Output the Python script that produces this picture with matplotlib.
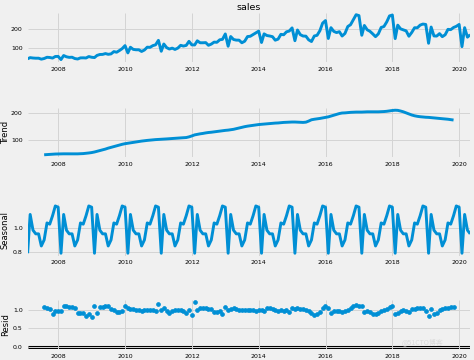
import numpy as np
import pandas as pd
import matplotlib
matplotlib.use("Agg")
import matplotlib.pyplot as plt

# monthly sales, Jan 2007 - Apr 2020
sales = [41, 47, 45, 44, 44, 39, 42.4, 48.9, 47.8, 44.7, 53.0, 53.6,
         36.8, 58.1, 51.4, 48.4, 49.2, 42.3, 39.8, 45.7, 46.0, 45.2, 52.8, 49.0,
         47.4, 58.8, 63.6, 64.1, 68.4, 64.5, 66.7, 78.8, 75.5, 84.6, 94.6, 110.4,
         71.9, 101.8, 90.5, 88.5, 88.4, 79.6, 87.3, 102.1, 101.3, 110.3, 114.6, 138.2,
         80.7, 118.9, 99.7, 92.4, 97.1, 90.3, 97.3, 111.9, 108.1, 111.5, 132.9, 114.4,
         113.8, 135.7, 125.4, 125.4, 126.2, 112.1, 118.4, 128.9, 127.8, 141.0, 143.4, 171.8,
         107.1, 158.3, 142.7, 139.4, 139.1, 125.4, 133.7, 158.1, 159.7, 168.8, 177.3, 186.7,
         126.9, 172.3, 163.6, 161.1, 157.5, 139.0, 144.6, 169.9, 167.6, 183.2, 187.2, 203.8,
         136.3, 192.8, 168.1, 160.9, 160.2, 141.0, 132.0, 161.1, 164.6, 189.1, 228.9, 242.4,
         148.0, 205.0, 185.4, 179.2, 183.8, 161.0, 174.5, 211.1, 220.6, 247.4, 273.3, 268.6,
         165.0, 216.7, 193.8, 185.9, 172.2, 157.6, 172.4, 206.2, 211.1, 235.7, 267.0, 271.6,
         147.4, 218.3, 198.7, 193.7, 188.1, 159.9, 179.8, 204.6, 204.4, 218.6, 224.0, 222.0,
         122.8, 208.3, 161.4, 160.8, 173.7, 157.6, 167.5, 196.2, 194.5, 206.0, 212.0, 222.0,
         105.0, 205.0, 155.0, 168.0]

# trend, Jul 2007 - Oct 2019
trend = [44.0, 44.8, 45.5, 46.2, 46.8, 47.2,
         47.5, 47.6, 47.7, 47.6, 47.5, 47.4, 47.5, 47.8, 48.5, 49.5, 50.8, 52.3,
         54.5, 57.0, 59.5, 62.5, 65.5, 69.0, 72.0, 75.0, 78.0, 81.0, 83.5, 85.8,
         87.5, 89.0, 90.5, 92.2, 94.0, 95.6, 97.0, 98.2, 99.3, 100.3, 101.2, 101.8,
         102.2, 103.0, 103.8, 104.6, 105.4, 106.2, 107.0, 107.6, 108.2, 109.0, 111.5, 115.0,
         119, 121, 123, 124.5, 126.5, 128, 129, 130.5, 132, 133.5, 135, 136,
         137, 138.5, 140, 142.5, 145, 147.5, 150, 152, 153.5, 155, 156.5, 158,
         159, 160, 160.5, 161.5, 162.5, 163.5, 164, 165, 166, 166.5, 167, 167.5,
         167.5, 167, 166.5, 166, 167, 171, 176, 178, 179.5, 181, 183, 185,
         187, 190, 193, 196.5, 199.5, 201.5, 202, 203, 204, 204.5, 205, 205,
         205, 205.5, 206, 206, 206, 206, 206, 206.5, 207, 208, 209.5, 211,
         212, 211.5, 209, 206, 202, 198, 194, 191, 189, 187.5, 186.5, 185.5,
         185, 184, 183, 182, 181, 180, 179, 178, 176.5, 175]

# seasonal factor by calendar month (Jan..Dec)
season_pattern = [0.79, 1.11, 0.98, 0.95, 0.95, 0.85, 0.90, 1.04, 1.03, 1.10, 1.18, 1.17]

# residuals, Jul 2007 - Oct 2019
resid = [1.07, 1.05, 1.02, 0.88, 0.96, 0.97,
         0.98, 1.10, 1.10, 1.07, 1.09, 1.05, 0.93, 0.92, 0.92, 0.83, 0.88, 0.80,
         1.10, 0.93, 1.09, 1.08, 1.10, 1.10, 1.03, 1.01, 0.94, 0.95, 0.96, 1.10,
         1.04, 1.03, 1.02, 1.01, 0.99, 0.98, 1.00, 1.00, 0.99, 1.00, 0.96, 1.16,
         1.00, 1.04, 0.98, 0.93, 0.97, 1.00, 1.01, 1.00, 0.97, 0.93, 1.01, 0.85,
         1.21, 1.01, 1.04, 1.06, 1.05, 1.03, 1.02, 0.95, 0.94, 0.96, 0.90, 1.08,
         0.99, 1.03, 1.04, 1.03, 1.01, 1.00, 0.99, 1.00, 1.01, 0.99, 0.96, 1.01,
         1.01, 0.97, 1.04, 1.05, 1.02, 1.00, 0.98, 0.99, 0.98, 1.00, 0.95, 1.04,
         1.03, 1.04, 1.03, 1.02, 1.01, 0.97, 0.92, 0.87, 0.89, 0.95, 1.06, 1.12,
         1.05, 0.91, 0.98, 0.96, 0.97, 0.94, 0.96, 1.00, 1.05, 1.10, 1.13, 1.12,
         1.10, 0.95, 0.96, 0.95, 0.88, 0.90, 0.93, 0.96, 0.99, 1.03, 1.08, 1.10,
         0.88, 0.93, 0.97, 0.99, 0.98, 0.95, 1.03, 1.03, 1.05, 1.06, 1.04, 0.96,
         0.84, 1.02, 0.90, 0.93, 1.01, 1.03, 1.04, 1.06, 1.07, 1.07]

dates = pd.date_range("2007-01-31", periods=len(sales), freq=pd.offsets.MonthEnd())
mid = dates[6:6 + len(trend)]
seasonal = np.tile(season_pattern, len(dates) // 12 + 1)[:len(dates)]

plt.style.use("fivethirtyeight")
plt.rcParams["font.family"] = ["DejaVu Sans"]
blue = "#008fd5"
bg = "#f0f0f0"

W, H = 474, 360
fig = plt.figure(figsize=(W / 100, H / 100), dpi=100, facecolor=bg)


def box(top, bottom):
    return [27.6 / W, 1 - bottom / H, (470.2 - 27.6) / W, (bottom - top) / H]


ax1 = fig.add_axes(box(12.5, 62))
ax2 = fig.add_axes(box(108, 157))
ax3 = fig.add_axes(box(203.6, 255.6))
ax4 = fig.add_axes(box(300, 349))

ax1.plot(dates, sales, color=blue, lw=2.1)
ax2.plot(mid, trend, color=blue, lw=2.1)
ax3.plot(dates, seasonal, color=blue, lw=2.1)
ax4.plot(mid, resid, marker="o", linestyle="none", color=blue, ms=2.8, mew=0.5)
ax4.plot([dates[0], dates[-1]], [0, 0], color="#000000", lw=2.2, zorder=-3)

ax1.set_title("sales", fontsize=6.8, pad=2)
ax2.set_ylabel("Trend", fontsize=6)
ax3.set_ylabel("Seasonal", fontsize=6)
ax4.set_ylabel("Resid", fontsize=6)
for ax in (ax2, ax3, ax4):
    ax.yaxis.set_label_coords(-0.04, 0.5)

ax1.set_ylim(24, 285)
ax1.set_yticks([100, 200])
ax2.set_ylim(35.6, 220.4)
ax2.set_yticks([100, 200])
ax3.set_ylim(0.7705, 1.1995)
ax3.set_yticks([0.8, 1.0])
ax4.set_ylim(-0.06, 1.27)
ax4.set_yticks([0.0, 0.5, 1.0])

ticks = pd.to_datetime([f"{y}-01-01" for y in range(2008, 2021, 2)])
for ax in (ax1, ax2, ax3, ax4):
    ax.set_facecolor(bg)
    ax.set_xlim(dates[0], dates[-1])
    ax.set_xticks(ticks)
    ax.set_xticklabels([str(t.year) for t in ticks])
    ax.tick_params(labelsize=4.5, length=0, pad=3.5)
    ax.grid(True, color="#d4d4d4", lw=0.7)
    for s in ax.spines.values():
        s.set_visible(False)

fig.text(0.935, 0.038, "@51CTO博客", fontsize=5, color="#d9d9d9", ha="right",
         va="bottom", family=["Noto Sans CJK SC", "DejaVu Sans"])

fig.savefig("out.png", dpi=100, facecolor=bg)
